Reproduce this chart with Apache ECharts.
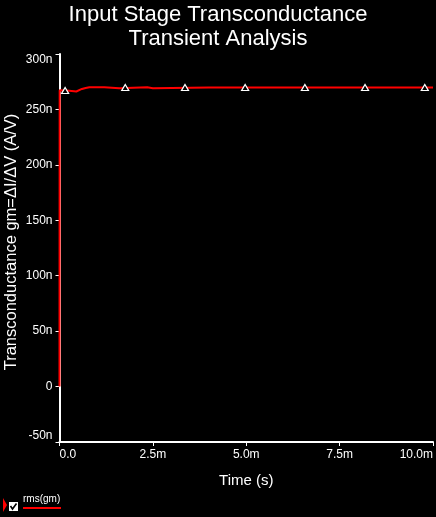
<!DOCTYPE html>
<html>
<head>
<meta charset="utf-8">
<script src="https://cdn.jsdelivr.net/npm/echarts@6/dist/echarts.min.js"></script>
<style>
html,body{margin:0;padding:0;background:#000;}
#c{width:436px;height:517px;}
</style>
</head>
<body>
<div id="c"></div>
<script>
// time in ms, value in nA/V
const timeMs = [0, 0.005, 0.2, 0.25, 0.45, 0.5, 0.6, 0.7, 0.8, 1.2, 1.25, 1.6, 1.65, 2.35, 2.4, 2.5, 2.55, 4.0, 6.0, 8.0, 10.0];
const gmN    = [0, 267.2, 267.0, 266.0, 266.2, 267.6, 268.5, 269.4, 270.0, 270.0, 269.1, 269.1, 270.0, 270.0, 269.1, 269.1, 269.8, 269.8, 269.8, 269.8, 269.8];
const markerTimeMs = [0.15, 1.76, 3.36, 4.97, 6.57, 8.18, 9.78];
const markerGmN    = [267.1, 269.8, 269.8, 269.8, 269.8, 269.8, 269.8];
const xTicks = [0, 2.5, 5, 7.5, 10];
const yTicks = [-50, 0, 50, 100, 150, 200, 250, 300];

const chart = echarts.init(document.getElementById('c'));
const white = '#ffffff';
chart.setOption({
  backgroundColor: '#000000',
  animation: false,
  title: {
    text: 'Input Stage Transconductance\nTransient Analysis',
    left: 'center', top: -2,
    textStyle: { color: white, fontFamily: 'Liberation Sans', fontSize: 22, fontWeight: 'normal', lineHeight: 24 }
  },
  grid: { left: 59.5, right: 3, top: 54, bottom: 75, containLabel: false, outerBoundsMode: 'none' },
  xAxis: {
    type: 'value', min: xTicks[0], max: xTicks[xTicks.length - 1], interval: 2.5,
    name: 'Time (s)', nameLocation: 'middle', nameGap: 31,
    nameTextStyle: { color: white, fontFamily: 'Liberation Sans', fontSize: 15 },
    axisLine: { onZero: false, lineStyle: { color: white, width: 2 } },
    axisTick: { show: true, length: 4, lineStyle: { color: white, width: 1 } },
    splitLine: { show: false },
    axisLabel: {
      color: white, fontFamily: 'Liberation Sans', fontSize: 12, margin: 7,
      alignMinLabel: 'left', alignMaxLabel: 'right',
      formatter: v => v === 0 ? '0.0' : v.toFixed(1) + 'm'
    }
  },
  yAxis: {
    type: 'value', min: yTicks[0], max: yTicks[yTicks.length - 1], interval: 50,
    name: 'Transconductance gm=ΔI/ΔV (A/V)', nameLocation: 'middle', nameGap: 40, nameMoveOverlap: false,
    nameTextStyle: { color: white, fontFamily: 'Liberation Sans', fontSize: 16.5, padding: [0, 0, 0, 12] },
    axisLine: { show: true, onZero: false, lineStyle: { color: white, width: 2 } },
    axisTick: { show: true, length: 4, lineStyle: { color: white, width: 1 } },
    splitLine: { show: false },
    axisLabel: {
      color: white, fontFamily: 'Liberation Sans', fontSize: 12, margin: 7,
      verticalAlignMinLabel: 'bottom', verticalAlignMaxLabel: 'top',
      formatter: v => v === 0 ? '0' : v + 'n'
    }
  },
  series: [
    {
      name: 'rms(gm)', type: 'line', showSymbol: false,
      data: timeMs.map((t, i) => [t, gmN[i]]),
      lineStyle: { color: '#ff0000', width: 2 },
      z: 3
    },
    {
      name: 'markers', type: 'scatter', symbol: 'triangle', symbolSize: [7, 6],
      data: markerTimeMs.map((t, i) => [t, markerGmN[i]]),
      itemStyle: { color: '#000000', borderColor: white, borderWidth: 1.2, opacity: 1 },
      z: 4
    }
  ],
  graphic: [
    { type: 'polygon', shape: { points: [[3, 498], [7, 505], [3, 512]] }, style: { fill: '#ff0000' } },
    { type: 'rect', shape: { x: 9, y: 502, width: 9, height: 9 }, style: { fill: white } },
    { type: 'polyline', shape: { points: [[10.5, 506], [12.5, 509], [16.5, 503.5]] }, style: { stroke: '#000', lineWidth: 1.6, fill: null } },
    { type: 'text', left: 23, top: 494, style: { text: 'rms(gm)', fill: white, font: '10px "Liberation Sans"' } },
    { type: 'rect', shape: { x: 23, y: 507, width: 38, height: 2 }, style: { fill: '#ff0000' } }
  ]
});
</script>
</body>
</html>
